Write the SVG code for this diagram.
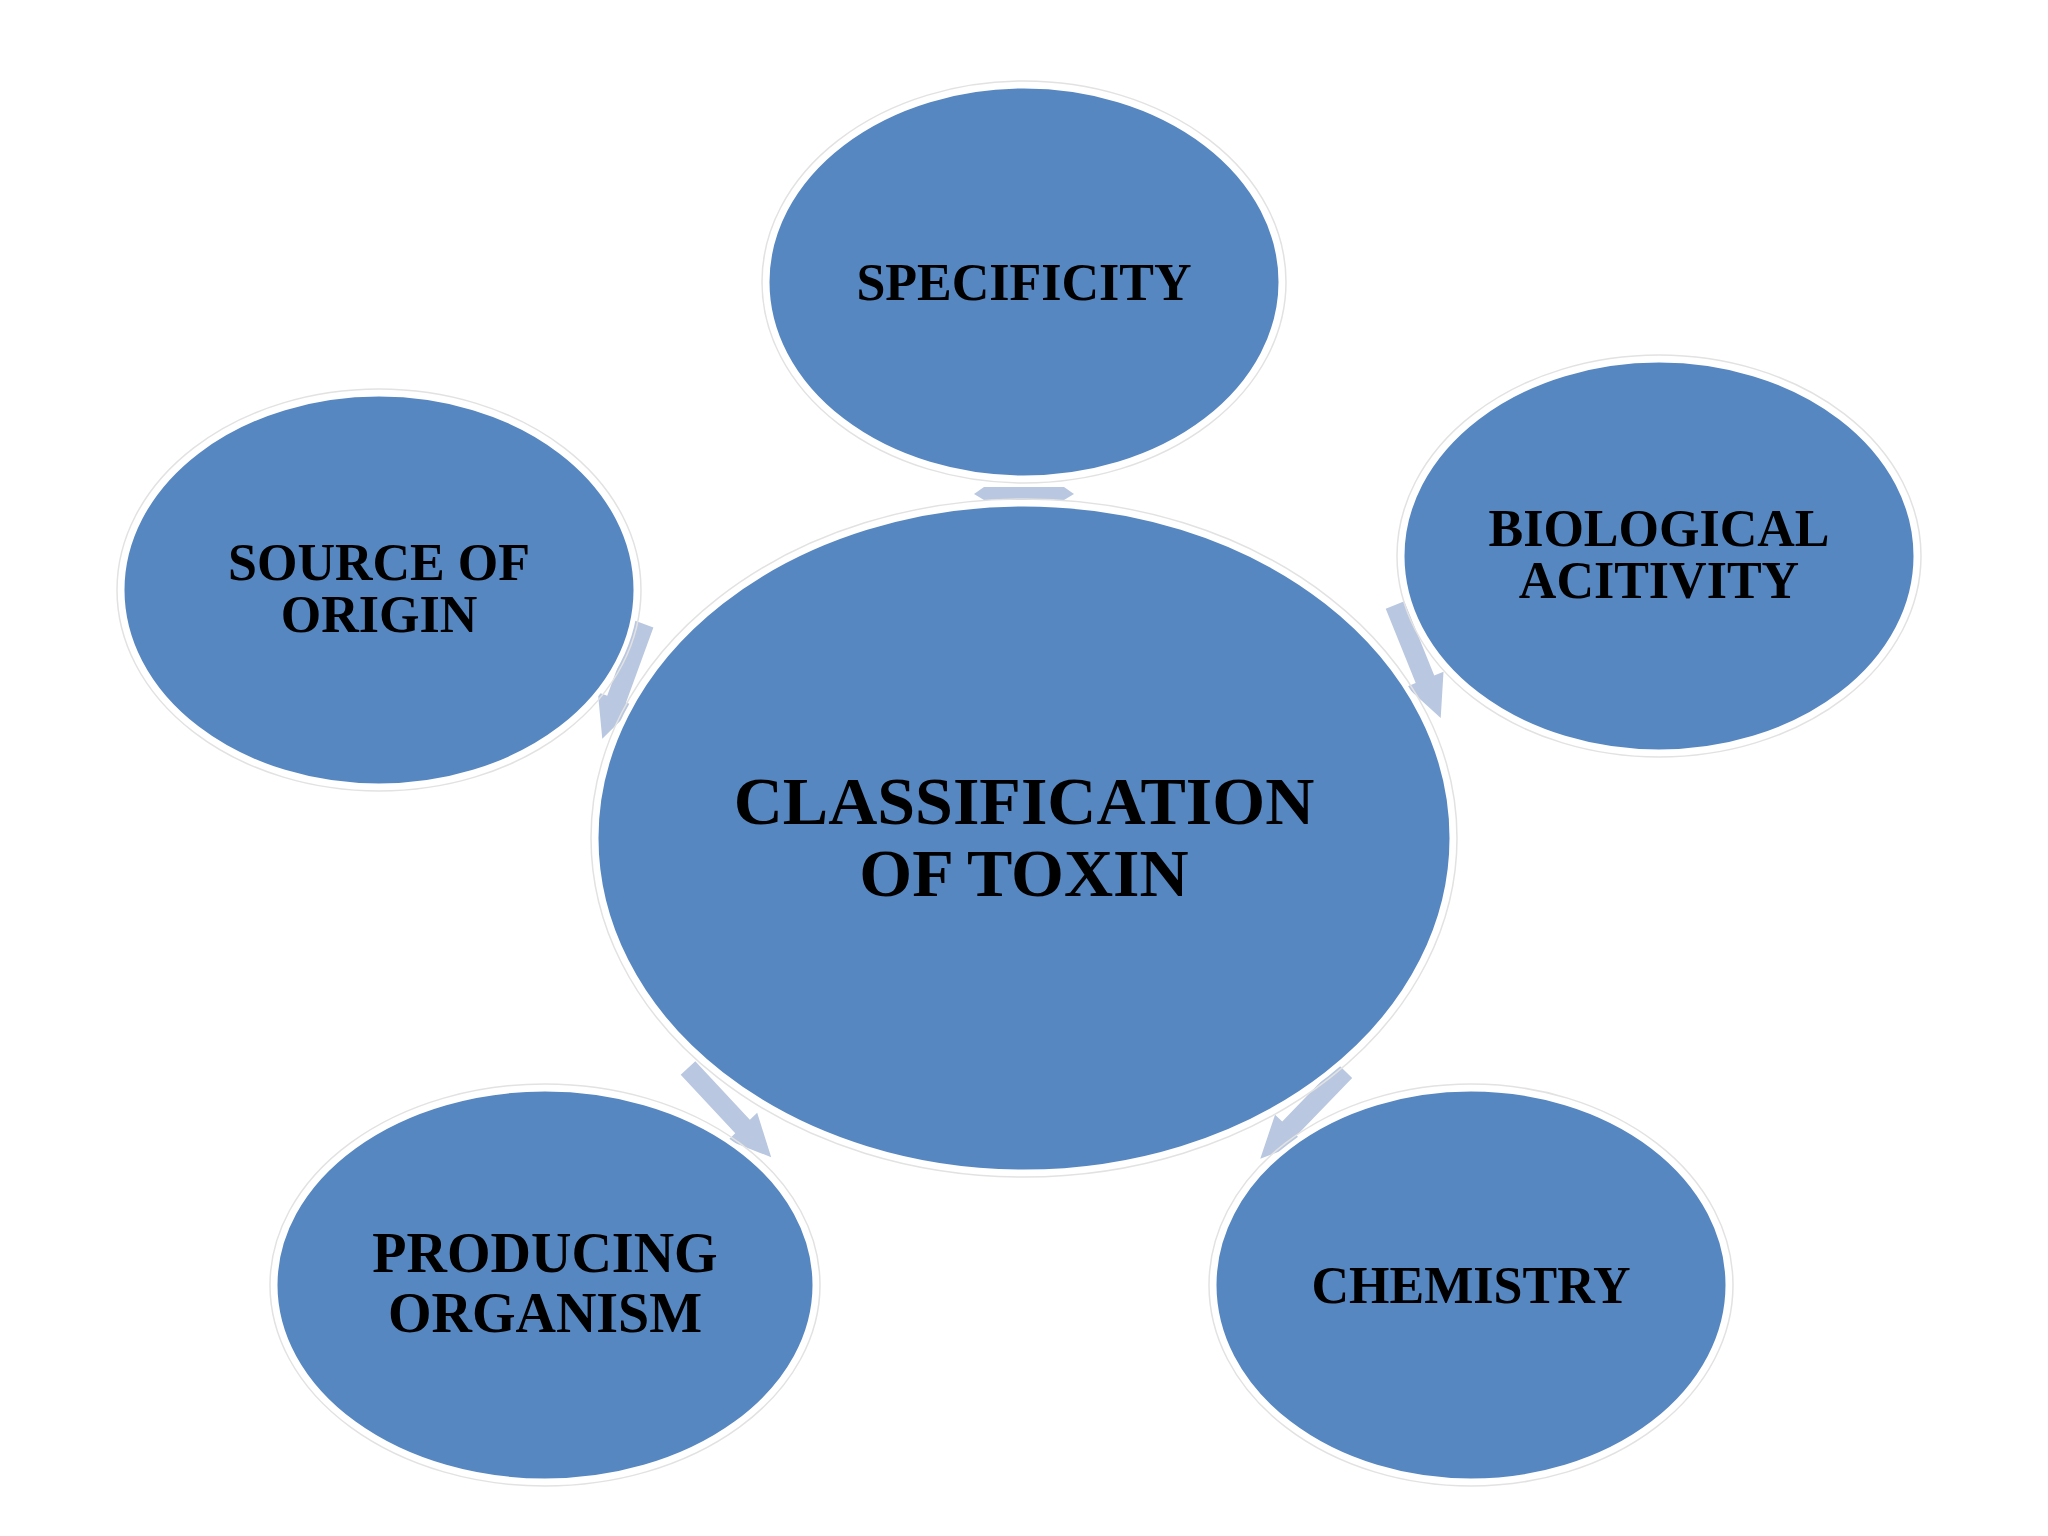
<svg xmlns="http://www.w3.org/2000/svg" width="2048" height="1536" viewBox="0 0 2048 1536">
<style>
.n{fill:#5787c0;stroke:#fff;stroke-width:5}
.o{fill:none;stroke:#e2e2e2;stroke-width:1.5}
.t{font-family:"Liberation Serif","Times New Roman",serif;font-weight:bold;fill:#000;text-anchor:middle}
.s{font-size:52px}
.p{font-size:56px}
.c{font-size:68px}
.a{fill:#b9c8e0}
</style>
<defs>
<path id="arr" d="M0,-10 L80,-10 L80,-20 L122,0 L80,20 L80,10 L0,10 Z"/>
</defs>
<rect width="2048" height="1536" fill="#fff"/>
<g id="connectors">
<polygon class="a" points="984,487 1064,487 1074,494 1064,500 984,500 974,494"/>
<use href="#arr" class="a" transform="translate(1395,605) rotate(68)"/>
<use href="#arr" class="a" transform="translate(644,624) rotate(110)"/>
<use href="#arr" class="a" transform="translate(688,1068) rotate(47)"/>
<use href="#arr" class="a" transform="translate(1345,1071) rotate(134)"/>
</g>
<g id="center">
<ellipse class="o" cx="1024" cy="838" rx="433" ry="339"/>
<ellipse class="n" cx="1024" cy="838" rx="428" ry="334"/>
<text class="t c" x="1024" y="824">CLASSIFICATION</text>
<text class="t c" x="1024" y="896">OF TOXIN</text>
</g>
<g id="specificity">
<ellipse class="o" cx="1024" cy="282" rx="262" ry="201"/>
<ellipse class="n" cx="1024" cy="282" rx="257" ry="196"/>
<text class="t s" x="1024" y="300">SPECIFICITY</text>
</g>
<g id="biological">
<ellipse class="o" cx="1659" cy="556" rx="262" ry="201"/>
<ellipse class="n" cx="1659" cy="556" rx="257" ry="196"/>
<text class="t s" x="1659" y="546">BIOLOGICAL</text>
<text class="t s" x="1659" y="598">ACITIVITY</text>
</g>
<g id="source">
<ellipse class="o" cx="379" cy="590" rx="262" ry="201"/>
<ellipse class="n" cx="379" cy="590" rx="257" ry="196"/>
<text class="t s" x="379" y="580">SOURCE OF</text>
<text class="t s" x="379" y="632">ORIGIN</text>
</g>
<g id="producing">
<ellipse class="o" cx="545" cy="1285" rx="275" ry="201"/>
<ellipse class="n" cx="545" cy="1285" rx="270" ry="196"/>
<text class="t p" x="545" y="1272">PRODUCING</text>
<text class="t p" x="545" y="1332">ORGANISM</text>
</g>
<g id="chemistry">
<ellipse class="o" cx="1471" cy="1285" rx="262" ry="201"/>
<ellipse class="n" cx="1471" cy="1285" rx="257" ry="196"/>
<text class="t s" x="1471" y="1303">CHEMISTRY</text>
</g>
</svg>
